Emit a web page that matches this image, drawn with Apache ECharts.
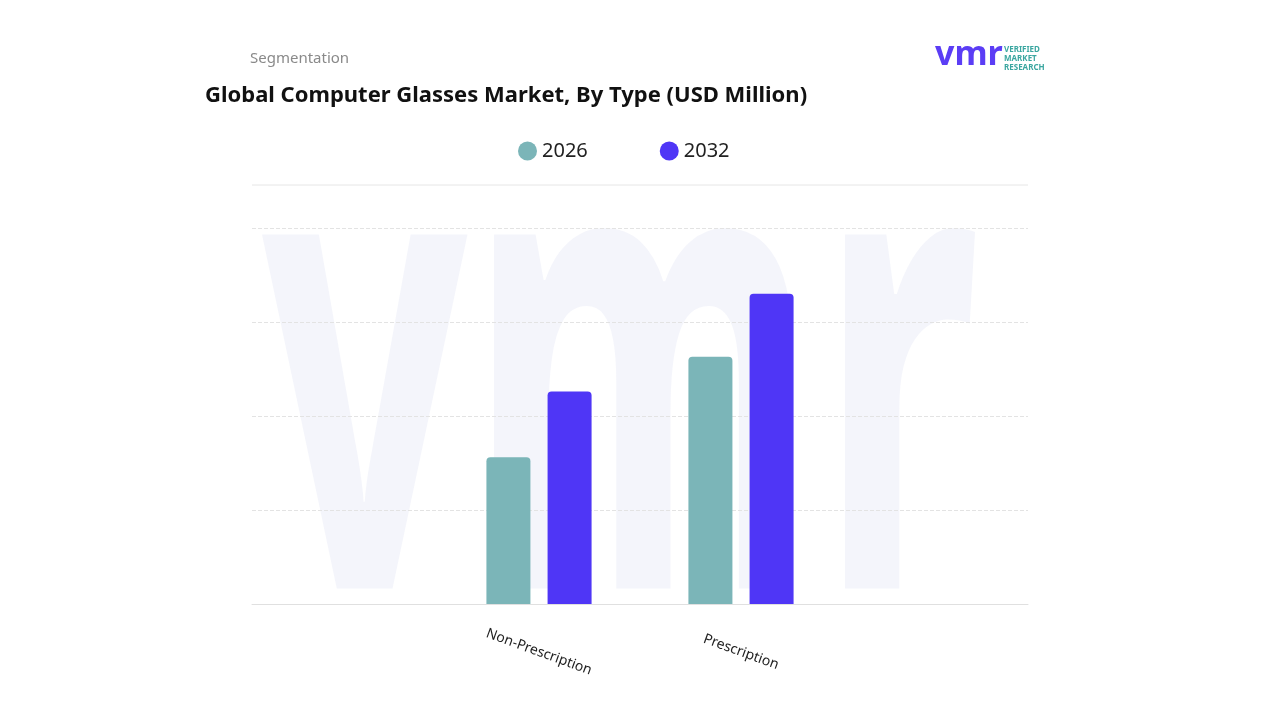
<!DOCTYPE html>
<html><head><meta charset="utf-8">
<script src="https://cdn.jsdelivr.net/npm/echarts@6/dist/echarts.min.js"></script>
<style>html,body{margin:0;padding:0;background:#fff}#c{width:1280px;height:720px}</style>
</head><body><div id="c"></div>
<script>
const categories = ['Non-Prescription', 'Prescription'];
const series2026 = [1.56, 2.63];
const series2032 = [2.26, 3.30];
const seriesNames = ['2026', '2032'];

const chart = echarts.init(document.getElementById('c'));
chart.setOption({
  animation: false,
  backgroundColor: '#fff',
  graphic: [
    {type:'text', left:250, top:51, style:{text:'Segmentation', fill:'#8a8a8a', font:'15px "Noto Sans"'}},
    {type:'text', left:205, top:85, style:{text:'Global Computer Glasses Market, By Type (USD Million)', fill:'#111', font:'bold 22px "Noto Sans"'}},
    {type:'text', left:935, top:38, style:{text:'vmr', fill:'#5b3df5', font:'bold 34px "Noto Sans"'}},
    {type:'text', left:1004, top:45, style:{text:'VERIFIED\nMARKET\nRESEARCH', fill:'#3aa6a0', font:'bold 8px "Noto Sans"', lineHeight:9}},
    {type:'text', x:262, y:80, scaleY:1.8, z:-10, style:{text:'vmr', fill:'rgba(236,238,248,0.6)', font:'bold 360px "Noto Sans"'}},
    {type:'line', shape:{x1:252, y1:185, x2:1028, y2:185}, style:{stroke:'#e6e6e6', lineWidth:1}}
  ],
  legend: {
    top: 136, left: 513, itemGap: 72, icon: 'circle', itemWidth: 19, itemHeight: 19,
    textStyle: {fontSize: 20, color: '#222', fontFamily: 'Noto Sans'},
    data: seriesNames
  },
  grid: [
    {left: 252, right: 252, top: 228, bottom: 116},
    {left: 438, width: 404, top: 228, bottom: 116}
  ],
  xAxis: [
    {gridIndex: 0, type: 'category', data: categories, axisLine:{show:true, lineStyle:{color:'#e0e0e0'}}, axisTick:{show:false}, axisLabel:{show:false}},
    {gridIndex: 1, type: 'category', data: categories, axisLine:{show:false}, axisTick:{show:false},
     axisLabel:{rotate:-20, margin:48, align:'center', verticalAlign:'middle', fontSize:14, color:'#222', fontFamily:'Noto Sans'}}
  ],
  yAxis: [
    {gridIndex: 0, type: 'value', min: 0, max: 4, interval: 1, axisLabel:{show:false}, axisLine:{show:false},
     splitLine:{lineStyle:{color:'#e3e3e3', type:'dashed'}}},
    {gridIndex: 1, type: 'value', min: 0, max: 4, interval: 1, axisLabel:{show:false}, axisLine:{show:false}, splitLine:{show:false}}
  ],
  series: [
    {name: seriesNames[0], type: 'bar', xAxisIndex: 1, yAxisIndex: 1, data: series2026, barWidth: 44, barGap: '39%',
     itemStyle: {color: '#7bb5b8', borderRadius: [4,4,0,0]}},
    {name: seriesNames[1], type: 'bar', xAxisIndex: 1, yAxisIndex: 1, data: series2032, barWidth: 44, barGap: '39%',
     itemStyle: {color: '#4f36f6', borderRadius: [4,4,0,0]}}
  ]
});
</script></body></html>
